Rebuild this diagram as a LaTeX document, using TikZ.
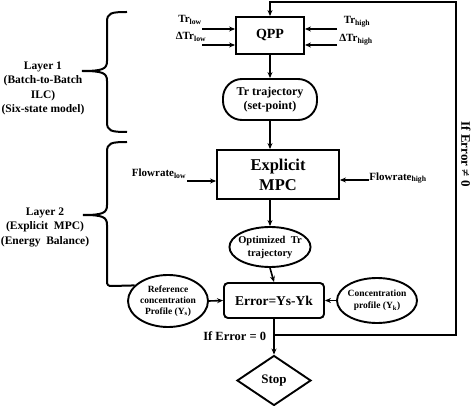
\documentclass[tikz,border=0pt]{standalone}
\usepackage{fontspec}
\setmainfont{Liberation Serif}
\usetikzlibrary{shapes.geometric,arrows.meta}
\begin{document}
\begin{tikzpicture}[x=1pt,y=-1pt,line width=1.9pt,font=\bfseries,
  arr/.style={-{Stealth[length=6pt,width=5pt]},line width=1.6pt},
  sz/.style={font=\bfseries\fontsize{#1}{#1}\selectfont},
  boxnode/.style={draw,rectangle,inner sep=0pt,align=center},
  ellnode/.style={draw,ellipse,inner xsep=-3pt,inner ysep=0pt,align=center},
  lbl/.style={inner sep=0pt,align=center}]
\useasboundingbox (0,0) rectangle (474,406);
% main column
\node[boxnode,minimum width=68pt,minimum height=37pt,sz=14] (qpp) at (270,35.5) {QPP};
\node[boxnode,rounded corners=19pt,minimum width=94pt,minimum height=41pt,
      font=\bfseries\fontsize{12}{14.5}\selectfont] (traj) at (270,99.5) {Tr trajectory\\(set-point)};
\node[boxnode,minimum width=122pt,minimum height=49pt,
      font=\bfseries\fontsize{16.5}{20}\selectfont] (mpc) at (278,174.5) {Explicit\\MPC};
\node[ellnode,minimum width=76pt,minimum height=40pt,
      font=\bfseries\fontsize{10.5}{13}\selectfont] (opt) at (270,247) {Optimized~~Tr\\trajectory};
\node[boxnode,rounded corners=4pt,minimum width=100pt,minimum height=35pt,sz=13.5] (err) at (274,300.5) {Error=Ys-Yk};
\node[ellnode,minimum width=80pt,minimum height=52pt,
      font=\bfseries\fontsize{9.5}{11}\selectfont] (ref) at (168,301) {Reference\\concentration\\Profile (Y\textsubscript{s})};
\node[ellnode,minimum width=80pt,minimum height=45pt,
      font=\bfseries\fontsize{9.5}{12}\selectfont] (conc) at (377,300.5) {Concentration\\profile (Y\textsubscript{k})};
\node[draw,diamond,inner sep=0pt,minimum width=74pt,minimum height=50pt,sz=13] (stop) at (274,380.5) {Stop};
% vertical flow
\draw[arr] (qpp.south) -- (traj.north);
\draw[arr] (traj.south) -- (traj.south |- mpc.north);
\draw[arr] (traj.south |- mpc.south) -- (opt.north);
\draw[arr] (opt.south) -- (err.north);
\draw[arr] (err.south) -- (stop.north);
\draw[arr] (ref.east) -- (err.west);
\draw[arr] (conc.west) -- (err.east);
% feedback loop
\coordinate (j) at (274,335);
\coordinate (rb) at (456,335);
\coordinate (rt) at (456,2);
\coordinate (tl) at (270,2);
\draw[arr] (j) -- (rb) -- (rt) -- (tl) -- (qpp.north);
\node[lbl,anchor=east,sz=12.5] (e0) at (267,336) {If Error = 0};
\node[lbl,rotate=-90,sz=13] (ne) at (466,154) {If Error ≠ 0};
% QPP inputs
\node[lbl,sz=11] (trl) at (190,20) {Tr\textsubscript{low}};
\node[lbl,sz=11] (dtrl) at (191,37) {ΔTr\textsubscript{low}};
\node[lbl,sz=11] (trh) at (357,22) {Tr\textsubscript{high}};
\node[lbl,sz=11] (dtrh) at (356,40) {ΔTr\textsubscript{high}};
\coordinate (a1) at (202,29);
\coordinate (a2) at (202,45);
\coordinate (a3) at (337,29);
\coordinate (a4) at (337,45);
\draw[arr] (a1) -- (a1 -| qpp.west);
\draw[arr] (a2) -- (a2 -| qpp.west);
\draw[arr] (a3) -- (a3 -| qpp.east);
\draw[arr] (a4) -- (a4 -| qpp.east);
% MPC inputs
\node[lbl,sz=11] (fl) at (159,174) {Flowrate\textsubscript{low}};
\node[lbl,sz=11] (fh) at (398,178) {Flowrate\textsubscript{high}};
\coordinate (b1) at (187,181);
\coordinate (b2) at (369,180);
\draw[arr] (b1) -- (b1 -| mpc.west);
\draw[arr] (b2) -- (b2 -| mpc.east);
% braces
\draw[line width=2pt] (127,12) .. controls (111,12) and (107,13) .. (107,22) -- (107,61)
   .. controls (107,69) and (103,71) .. (82,71)
   .. controls (103,71) and (107,73) .. (107,81) -- (107,122)
   .. controls (107,131) and (111,132) .. (127,132);
\draw[line width=2pt] (127,142) .. controls (111,142) and (107,143) .. (107,152) -- (107,205)
   .. controls (107,213) and (103,215) .. (83,215)
   .. controls (103,215) and (107,217) .. (107,225) -- (107,281)
   .. controls (107,285) and (108,286) .. (112,286) -- (ref.155);
\node[lbl,font=\bfseries\fontsize{11.5}{14.5}\selectfont] (l1) at (43,88.5) {Layer 1\\(Batch-to-Batch\\ILC)\\(Six-state model)};
\node[lbl,font=\bfseries\fontsize{11.5}{14.5}\selectfont] (l2) at (45,227) {Layer 2\\(Explicit~~MPC)\\(Energy~~Balance)};
\end{tikzpicture}
\end{document}
